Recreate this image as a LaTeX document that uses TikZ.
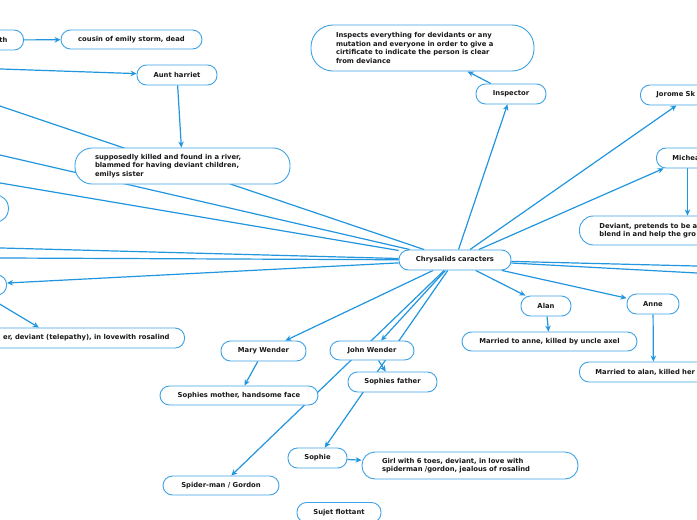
\documentclass[tikz,border=0pt]{standalone}
\usepackage{fontspec}
\setmainfont{DejaVu Sans}
\usetikzlibrary{arrows.meta}
\definecolor{linec}{RGB}{33,150,222}
\definecolor{bordc}{RGB}{62,162,230}
\definecolor{txtc}{RGB}{25,25,25}
\pgfdeclarelayer{bg}
\pgfsetlayers{bg,main}
\tikzset{
  box/.style={draw=bordc, line width=0.9pt, fill=white, text=txtc,
    font=\fontsize{6.8}{8.6}\selectfont\bfseries, inner sep=0pt,
    minimum height=20pt, rounded corners=9.5pt},
  conn/.style={draw=linec, line width=1.2pt},
  arr/.style={conn, -{Stealth[length=6pt,width=5.5pt]}},
}
\begin{document}
\begin{tikzpicture}[x=1pt,y=-1pt]
\useasboundingbox (0,0) rectangle (697,520);
\clip (0,0) rectangle (697,520);

% nodes
\node[box, anchor=east, text width=28, inner xsep=16, align=right] (th) at (24,40) {th};
\node[box, minimum width=141, minimum height=19] (cousin) at (131.5,39.5) {cousin of emily storm, dead};
\node[box, minimum width=80] (aunt) at (177,75) {Aunt harriet};
\node[box, minimum width=215, minimum height=36, rounded corners=17pt, text width=175, inner xsep=20, align=left] (supp) at (182.5,166) {supposedly killed and found in a river,\\blammed for having deviant children,\\emilys sister};
\node[box, minimum height=46, rounded corners=22pt, text width=173, inner xsep=25, align=left] (insp) at (422.5,48) {Inspects everything for devidants or any\\mutation and everyone in order to give a\\cirtificate to indicate the person is clear\\from deviance};
\node[box, minimum width=70] (inspector) at (511,94) {Inspector};
\node[box, anchor=west, text width=70, inner xsep=16, align=left] (jorome) at (640,95) {Jorome Sk};
\node[box, anchor=west, text width=30, inner xsep=16, align=left] (michea) at (656,158) {Michea};
\node[box, anchor=west, minimum height=29, rounded corners=14pt, text width=176, inner xsep=20, align=left] (deviant) at (579,230.5) {Deviant, pretends to be a\\blend in and help the gro};
\node[box, minimum width=112] (c) at (455,260) {Chrysalids caracters};
\node[box, minimum width=50] (alan) at (546,306) {Alan};
\node[box, minimum width=175, minimum height=19] (manne) at (549.5,341.5) {Married to anne, killed by uncle axel};
\node[box, minimum width=52] (anne) at (653,304) {Anne};
\node[box, anchor=west, text width=116, inner xsep=16, align=left] (malan) at (579,372) {Married to alan, killed her};
\node[box, minimum width=85] (mary) at (263.5,351) {Mary Wender};
\node[box, minimum width=84, minimum height=19] (john) at (372,350.5) {John Wender};
\node[box, minimum width=89] (father) at (392.5,382) {Sophies father};
\node[box, minimum width=158, minimum height=19] (mother) at (239,395.5) {Sophies mother, handsome face};
\node[box, minimum width=59] (sophie) at (317.5,458) {Sophie};
\node[box, minimum height=27, rounded corners=13pt, text width=176, inner xsep=20, align=left] (girl) at (470,465.5) {Girl with 6 toes, deviant, in love with\\spiderman /gordon, jealous of rosalind};
\node[box, minimum width=116, minimum height=19] (spider) at (221,485.5) {Spider-man / Gordon};
\node[box, minimum width=84] (sujet) at (339,512.5) {Sujet flottant};
\node[box, anchor=east, minimum width=80, minimum height=27, rounded corners=13pt] (leftA) at (9,208.5) {};
\node[box, anchor=east, minimum width=77] (leftB) at (7,285) {};
\node[box, anchor=east, text width=226.6, inner xsep=15, align=right] (tele) at (185,338) {er, deviant (telepathy), in lovewith rosalind};

% free ends off the page
\coordinate (oA) at (-40,67.6);
\coordinate (oL1) at (-40,92.5);
\coordinate (oL2) at (-40,145.8);
\coordinate (oL3) at (-40,176.2);
\coordinate (oL4) at (-40,246.9);
\coordinate (oL5) at (-40,257.8);
\coordinate (oR1) at (740,267.1);
\coordinate (oR2) at (740,275.3);

\begin{pgfonlayer}{bg}
\fill[white] (0,0) rectangle (697,520);
\draw[arr] (th) -- (cousin);
\draw[arr] (oA) -- (aunt);
\draw[arr] (aunt) -- (supp);
\draw[arr] (inspector) -- (insp);
\draw[arr] (c) -- (inspector);
\draw[arr] (c) -- (jorome);
\draw[arr] (c) -- (michea);
\draw[arr] (michea) -- (deviant);
\draw[arr] (c) -- (alan);
\draw[arr] (alan) -- (manne);
\draw[arr] (c) -- (anne);
\draw[arr] (anne) -- (malan);
\draw[arr] (c) -- (mary);
\draw[arr] (mary) -- (mother);
\draw[arr] (c) -- (john);
\draw[arr] (john) -- (father);
\draw[arr] (c) -- (sophie);
\draw[arr] (c) -- (spider);
\draw[arr] (sophie) -- (girl);
\draw[arr] (c) -- (leftB);
\draw[arr] (leftB) -- (tele);
\draw[conn] (c) -- (oL1);
\draw[conn] (c) -- (oL2);
\draw[conn] (c) -- (oL3);
\draw[conn] (c) -- (oL4);
\draw[conn] (c) -- (oL5);
\draw[conn] (c) -- (oR1);
\draw[conn] (c) -- (oR2);
\end{pgfonlayer}
\end{tikzpicture}
\end{document}
